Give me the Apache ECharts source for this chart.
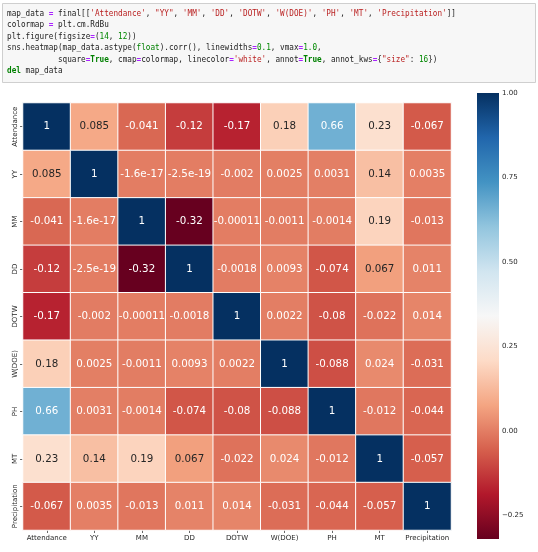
<!DOCTYPE html>
<html><head><meta charset="utf-8">
<script src="https://cdn.jsdelivr.net/npm/echarts@6/dist/echarts.min.js"></script>
<style>html,body{margin:0;padding:0;background:#fff}#c{width:538px;height:552px}</style>
</head><body><div id="c"></div>
<script>
// ---- data ----
const categories = ['Attendance', 'YY', 'MM', 'DD', 'DOTW', 'W(DOE)', 'PH', 'MT', 'Precipitation'];
const rowAttendance    = [1, 0.085, -0.041, -0.12, -0.17, 0.18, 0.66, 0.23, -0.067];
const rowYY            = [0.085, 1, -1.6e-17, -2.5e-19, -0.002, 0.0025, 0.0031, 0.14, 0.0035];
const rowMM            = [-0.041, -1.6e-17, 1, -0.32, -0.00011, -0.0011, -0.0014, 0.19, -0.013];
const rowDD            = [-0.12, -2.5e-19, -0.32, 1, -0.0018, 0.0093, -0.074, 0.067, 0.011];
const rowDOTW          = [-0.17, -0.002, -0.00011, -0.0018, 1, 0.0022, -0.08, -0.022, 0.014];
const rowWDOE          = [0.18, 0.0025, -0.0011, 0.0093, 0.0022, 1, -0.088, 0.024, -0.031];
const rowPH            = [0.66, 0.0031, -0.0014, -0.074, -0.08, -0.088, 1, -0.012, -0.044];
const rowMT            = [0.23, 0.14, 0.19, 0.067, -0.022, 0.024, -0.012, 1, -0.057];
const rowPrecipitation = [-0.067, 0.0035, -0.013, 0.011, 0.014, -0.031, -0.044, -0.057, 1];
const colorbarTicks = [-0.25, 0, 0.25, 0.5, 0.75, 1.0];
const vmax = 1.0;

const rows = [rowAttendance, rowYY, rowMM, rowDD, rowDOTW, rowWDOE, rowPH, rowMT, rowPrecipitation];
const rdbu = ['#67001f','#b2182b','#d6604d','#f4a582','#fddbc7','#f7f7f7','#d1e5f0','#92c5de','#4393c3','#2166ac','#053061'];
let vmin = Infinity;
rows.forEach(r => r.forEach(v => { if (v < vmin) vmin = v; }));

function hex2rgb(h){ return [parseInt(h.substr(1,2),16), parseInt(h.substr(3,2),16), parseInt(h.substr(5,2),16)]; }
function cmap(v){
  let t = (v - vmin) / (vmax - vmin); t = Math.max(0, Math.min(1, t));
  const p = t * (rdbu.length - 1); const i = Math.min(Math.floor(p), rdbu.length - 2); const f = p - i;
  const a = hex2rgb(rdbu[i]), b = hex2rgb(rdbu[i+1]);
  return a.map((c, k) => c + (b[k] - c) * f);
}
function lum(rgb){
  const lin = rgb.map(c => { c /= 255; return c <= 0.03928 ? c / 12.92 : Math.pow((c + 0.055) / 1.055, 2.4); });
  return 0.2126 * lin[0] + 0.7152 * lin[1] + 0.0722 * lin[2];
}

const data = [];
rows.forEach((r, yi) => r.forEach((v, xi) => {
  data.push({ value: [xi, yi, v], label: { color: lum(cmap(v)) > 0.408 ? '#262626' : '#ffffff' } });
}));

// ---- code cell text ----
const codeLines = [
  [['map_data ',''],['=','op'],[' final[[',''],["'Attendance'",'s'],[', ',''],['"YY"','s'],[', ',''],["'MM'",'s'],[', ',''],["'DD'",'s'],[', ',''],["'DOTW'",'s'],[', ',''],["'W(DOE)'",'s'],[', ',''],["'PH'",'s'],[', ',''],["'MT'",'s'],[', ',''],["'Precipitation'",'s'],[']]','']],
  [['colormap ',''],['=','op'],[' plt.cm.RdBu','']],
  [['plt.figure(figsize',''],['=','op'],['(',''],['14','num'],[', ',''],['12','num'],['))','']],
  [['sns.heatmap(map_data.astype(',''],['float','kw'],[').corr(), linewidths',''],['=','op'],['0.1','num'],[', vmax',''],['=','op'],['1.0','num'],[',','']],
  [['           square',''],['=','op'],['True','kwb'],[', cmap',''],['=','op'],['colormap, linecolor',''],['=','op'],["'white'",'s'],[', annot',''],['=','op'],['True','kwb'],[', annot_kws',''],['=','op'],['{',''],['"size"','s'],[': ',''],['16','num'],['}',''],[')','']],
  [['del','kwb'],[' map_data','']]
];
const codeFont = 'DejaVu Sans Mono';
const cfs = 9.4;
const rich = {
  n:   { fill: '#222', fontFamily: codeFont, fontSize: cfs },
  op:  { fill: '#aa22ff', fontFamily: codeFont, fontSize: cfs, fontWeight: 'bold' },
  s:   { fill: '#ba2121', fontFamily: codeFont, fontSize: cfs },
  num: { fill: '#008800', fontFamily: codeFont, fontSize: cfs },
  kw:  { fill: '#008000', fontFamily: codeFont, fontSize: cfs },
  kwb: { fill: '#008000', fontFamily: codeFont, fontSize: cfs, fontWeight: 'bold' }
};
const graphics = [{
  type: 'rect', left: 2, top: 3, z: 0,
  shape: { width: 533, height: 79 },
  style: { fill: '#f7f7f7', stroke: '#cfcfcf', lineWidth: 1 }
}];
codeLines.forEach((line, i) => {
  const txt = line.map(([t, c]) => (t.indexOf('}') >= 0) ? t : '{' + (c || 'n') + '|' + t + '}').join('');
  graphics.push({
    type: 'text', x: 7, y: 13.5 + i * 11.5, scaleX: 0.82, z: 1,
    style: { text: txt, rich: rich, fill: '#222', font: cfs + 'px "DejaVu Sans Mono"', textVerticalAlign: 'middle', textAlign: 'left' }
  });
});

const labelFont = 'DejaVu Sans';
const chart = echarts.init(document.getElementById('c'), null, { renderer: 'canvas' });
chart.setOption({
  animation: false,
  backgroundColor: '#ffffff',
  graphic: graphics,
  grid: [
    { left: 23, top: 103, width: 428, height: 427 },
    { left: 477, top: 93, width: 22, height: 446 }
  ],
  xAxis: [
    { type: 'category', data: categories, gridIndex: 0, position: 'bottom',
      axisLine: { show: false }, splitLine: { show: false }, splitArea: { show: false },
      axisTick: { show: true, alignWithLabel: true, length: 3, lineStyle: { color: '#262626', width: 0.7 } },
      axisLabel: { color: '#262626', fontSize: 7, fontFamily: labelFont, margin: 5, interval: 0 } },
    { type: 'value', gridIndex: 1, min: 0, max: 1, show: false }
  ],
  yAxis: [
    { type: 'category', data: categories, gridIndex: 0, inverse: true,
      axisLine: { show: false }, splitLine: { show: false }, splitArea: { show: false },
      axisTick: { show: true, alignWithLabel: true, length: 3, lineStyle: { color: '#262626', width: 0.7 } },
      axisLabel: { color: '#262626', fontSize: 7, fontFamily: labelFont, rotate: 90, margin: 4, interval: 0 } },
    { type: 'value', gridIndex: 1, min: vmin, max: vmax, position: 'right',
      axisLine: { show: false }, splitLine: { show: false },
      axisTick: { show: true, length: 3, customValues: colorbarTicks, lineStyle: { color: '#262626', width: 0.7 } },
      axisLabel: { color: '#262626', fontSize: 7, fontFamily: labelFont, margin: 3, customValues: colorbarTicks,
        formatter: v => (v < 0 ? '\u2212' : '') + Math.abs(v).toFixed(2) } }
  ],
  visualMap: {
    type: 'continuous', show: false, min: vmin, max: vmax, seriesIndex: 0,
    inRange: { color: rdbu }
  },
  series: [{
    type: 'heatmap', xAxisIndex: 0, yAxisIndex: 0, data: data,
    itemStyle: { borderColor: '#ffffff', borderWidth: 1 },
    label: { show: true, fontSize: 10.3, fontFamily: labelFont,
      formatter: p => String(p.value[2]) },
    emphasis: { disabled: true }
  }, {
    type: 'custom', xAxisIndex: 1, yAxisIndex: 1, data: [[0, vmin, 1, vmax]], silent: true,
    renderItem: (params, api) => {
      const p0 = api.coord([api.value(0), api.value(3)]);
      const p1 = api.coord([api.value(2), api.value(1)]);
      const stops = rdbu.map((c, i) => ({ offset: 1 - i / (rdbu.length - 1), color: c }));
      stops.reverse();
      return {
        type: 'rect',
        shape: { x: p0[0], y: p0[1], width: p1[0] - p0[0], height: p1[1] - p0[1] },
        style: { fill: new echarts.graphic.LinearGradient(0, 0, 0, 1, stops) }
      };
    }
  }]
});
</script></body></html>
